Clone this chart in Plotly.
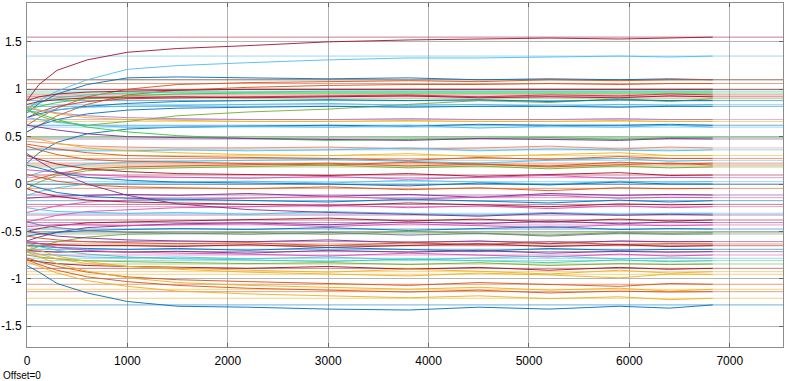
import plotly.graph_objects as go

X = [0, 120, 300, 600, 1000, 1500, 2200, 3000, 3800, 4500, 5200, 5900, 6400, 6830]
X_MAX = 7530

s01 = [0.88, 1.05, 1.20, 1.31, 1.39, 1.43, 1.46, 1.50, 1.52, 1.53, 1.54, 1.53, 1.54, 1.55]
s02 = [0.80, 0.88, 0.98, 1.10, 1.21, 1.25, 1.28, 1.31, 1.33, 1.33, 1.34, 1.35, 1.34, 1.35]
s03 = [0.75, 0.85, 0.95, 1.05, 1.12, 1.13, 1.12, 1.11, 1.12, 1.10, 1.11, 1.10, 1.11, 1.10]
s04 = [0.62, 0.70, 0.80, 0.92, 1.00, 1.05, 1.07, 1.08, 1.09, 1.08, 1.10, 1.09, 1.10, 1.10]
s05 = [0.55, 0.62, 0.72, 0.84, 0.94, 0.99, 1.02, 1.04, 1.05, 1.05, 1.06, 1.05, 1.06, 1.06]
s06 = [0.88, 0.92, 0.95, 0.97, 0.98, 0.99, 1.00, 1.00, 1.00, 1.00, 1.00, 1.00, 1.00, 1.00]
s07 = [0.80, 0.86, 0.91, 0.94, 0.96, 0.97, 0.97, 0.98, 0.98, 0.98, 0.98, 0.98, 0.98, 0.98]
s08 = [0.78, 0.82, 0.86, 0.90, 0.93, 0.95, 0.96, 0.96, 0.96, 0.96, 0.96, 0.96, 0.96, 0.96]
s09 = [0.70, 0.76, 0.82, 0.87, 0.90, 0.91, 0.92, 0.93, 0.94, 0.92, 0.94, 0.93, 0.95, 0.94]
s10 = [0.84, 0.87, 0.89, 0.91, 0.91, 0.92, 0.91, 0.92, 0.93, 0.91, 0.92, 0.91, 0.93, 0.92]
s11 = [0.78, 0.72, 0.66, 0.62, 0.66, 0.72, 0.76, 0.79, 0.84, 0.88, 0.86, 0.90, 0.87, 0.90]
s12 = [0.70, 0.74, 0.78, 0.82, 0.85, 0.87, 0.88, 0.89, 0.88, 0.89, 0.87, 0.89, 0.88, 0.88]
s13 = [0.76, 0.77, 0.79, 0.81, 0.82, 0.83, 0.84, 0.85, 0.83, 0.84, 0.82, 0.84, 0.83, 0.84]
s14 = [0.55, 0.62, 0.68, 0.74, 0.78, 0.80, 0.81, 0.82, 0.81, 0.82, 0.82, 0.81, 0.82, 0.82]
s15 = [0.80, 0.78, 0.75, 0.72, 0.70, 0.69, 0.68, 0.68, 0.69, 0.68, 0.68, 0.69, 0.68, 0.68]
s16 = [0.82, 0.78, 0.74, 0.70, 0.68, 0.67, 0.66, 0.66, 0.67, 0.66, 0.66, 0.67, 0.66, 0.66]
s17 = [0.22, 0.33, 0.44, 0.53, 0.58, 0.60, 0.61, 0.62, 0.61, 0.63, 0.62, 0.62, 0.63, 0.62]
s18 = [0.70, 0.68, 0.65, 0.62, 0.60, 0.60, 0.61, 0.60, 0.62, 0.59, 0.61, 0.60, 0.62, 0.60]
s19 = [0.78, 0.74, 0.68, 0.60, 0.55, 0.51, 0.48, 0.46, 0.47, 0.48, 0.49, 0.47, 0.49, 0.49]
s20 = [0.62, 0.60, 0.57, 0.53, 0.50, 0.49, 0.48, 0.47, 0.46, 0.48, 0.47, 0.46, 0.48, 0.475]
s21 = [0.45, 0.44, 0.42, 0.40, 0.39, 0.38, 0.38, 0.39, 0.37, 0.38, 0.40, 0.37, 0.39, 0.38]
s22 = [0.36, 0.37, 0.36, 0.35, 0.35, 0.36, 0.35, 0.36, 0.38, 0.35, 0.37, 0.36, 0.35, 0.36]
s23 = [0.50, 0.47, 0.43, 0.38, 0.35, 0.33, 0.31, 0.30, 0.32, 0.29, 0.31, 0.33, 0.30, 0.30]
s24 = [0.42, 0.40, 0.37, 0.33, 0.30, 0.29, 0.28, 0.27, 0.25, 0.28, 0.26, 0.29, 0.27, 0.27]
s25 = [0.08, 0.12, 0.17, 0.21, 0.23, 0.24, 0.25, 0.26, 0.24, 0.22, 0.25, 0.27, 0.24, 0.25]
s26 = [0.40, 0.36, 0.31, 0.26, 0.24, 0.23, 0.22, 0.20, 0.23, 0.21, 0.19, 0.23, 0.21, 0.22]
s27 = [0.02, 0.06, 0.11, 0.16, 0.18, 0.19, 0.21, 0.22, 0.19, 0.21, 0.18, 0.20, 0.22, 0.20]
s28 = [-0.05, 0.02, 0.09, 0.14, 0.16, 0.17, 0.18, 0.20, 0.17, 0.19, 0.16, 0.19, 0.17, 0.18]
s29 = [0.30, 0.26, 0.21, 0.16, 0.13, 0.11, 0.10, 0.09, 0.11, 0.08, 0.10, 0.12, 0.09, 0.095]
s30 = [0.15, 0.14, 0.12, 0.10, 0.08, 0.07, 0.06, 0.08, 0.05, 0.07, 0.09, 0.06, 0.07, 0.067]
s31 = [-0.12, -0.08, -0.04, 0.00, 0.01, 0.02, 0.03, 0.01, 0.04, 0.02, 0.00, 0.03, 0.02, 0.025]
s32 = [0.20, 0.17, 0.12, 0.07, 0.04, 0.02, 0.01, 0.00, -0.02, 0.01, -0.01, 0.02, 0.00, 0.00]
s33 = [0.10, 0.07, 0.03, -0.01, -0.03, -0.04, -0.05, -0.03, -0.06, -0.04, -0.07, -0.04, -0.05, -0.046]
s34 = [-0.15, -0.14, -0.13, -0.12, -0.11, -0.12, -0.10, -0.13, -0.11, -0.14, -0.10, -0.12, -0.11, -0.116]
s35 = [-0.30, -0.27, -0.23, -0.19, -0.17, -0.16, -0.15, -0.13, -0.16, -0.14, -0.12, -0.15, -0.14, -0.144]
s36 = [0.00, -0.04, -0.09, -0.13, -0.15, -0.16, -0.17, -0.19, -0.16, -0.18, -0.20, -0.17, -0.19, -0.176]
s37 = [-0.05, -0.09, -0.13, -0.17, -0.19, -0.20, -0.21, -0.23, -0.20, -0.22, -0.24, -0.21, -0.22, -0.215]
s38 = [-0.40, -0.37, -0.33, -0.29, -0.27, -0.25, -0.24, -0.22, -0.25, -0.23, -0.26, -0.23, -0.25, -0.239]
s39 = [-0.25, -0.27, -0.29, -0.30, -0.31, -0.30, -0.32, -0.29, -0.31, -0.33, -0.30, -0.32, -0.31, -0.309]
s40 = [0.32, 0.24, 0.13, 0.00, -0.12, -0.21, -0.27, -0.30, -0.32, -0.34, -0.31, -0.33, -0.32, -0.327]
s41 = [-0.50, -0.47, -0.44, -0.41, -0.40, -0.39, -0.38, -0.36, -0.39, -0.37, -0.40, -0.37, -0.39, -0.38]
s42 = [-0.60, -0.56, -0.51, -0.46, -0.44, -0.42, -0.41, -0.43, -0.40, -0.42, -0.39, -0.42, -0.40, -0.408]
s43 = [-0.45, -0.44, -0.43, -0.43, -0.44, -0.43, -0.42, -0.45, -0.42, -0.44, -0.46, -0.43, -0.44, -0.432]
s44 = [-0.55, -0.53, -0.51, -0.49, -0.48, -0.47, -0.48, -0.46, -0.49, -0.47, -0.45, -0.48, -0.47, -0.475]
s45 = [-0.70, -0.66, -0.61, -0.56, -0.53, -0.52, -0.51, -0.53, -0.50, -0.52, -0.54, -0.51, -0.52, -0.51]
s46 = [-0.40, -0.43, -0.46, -0.49, -0.51, -0.52, -0.53, -0.51, -0.54, -0.52, -0.55, -0.52, -0.53, -0.527]
s47 = [-0.50, -0.52, -0.55, -0.57, -0.59, -0.60, -0.61, -0.59, -0.62, -0.60, -0.63, -0.60, -0.61, -0.608]
s48 = [-0.55, -0.57, -0.59, -0.61, -0.62, -0.63, -0.62, -0.65, -0.62, -0.64, -0.61, -0.64, -0.63, -0.633]
s49 = [-0.62, -0.63, -0.64, -0.65, -0.65, -0.66, -0.64, -0.67, -0.65, -0.63, -0.66, -0.64, -0.66, -0.651]
s50 = [-0.65, -0.66, -0.67, -0.68, -0.69, -0.68, -0.70, -0.67, -0.69, -0.71, -0.68, -0.70, -0.69, -0.689]
s51 = [-0.70, -0.71, -0.72, -0.71, -0.72, -0.71, -0.73, -0.70, -0.72, -0.70, -0.73, -0.71, -0.72, -0.714]
s52 = [-0.60, -0.63, -0.67, -0.70, -0.72, -0.73, -0.74, -0.76, -0.73, -0.75, -0.77, -0.74, -0.76, -0.749]
s53 = [-0.72, -0.74, -0.75, -0.77, -0.78, -0.77, -0.79, -0.77, -0.80, -0.78, -0.76, -0.79, -0.78, -0.784]
s54 = [-0.62, -0.66, -0.70, -0.74, -0.77, -0.79, -0.80, -0.82, -0.79, -0.81, -0.83, -0.80, -0.82, -0.809]
s55 = [-0.75, -0.77, -0.79, -0.81, -0.82, -0.83, -0.84, -0.83, -0.85, -0.83, -0.86, -0.84, -0.85, -0.844]
s56 = [-0.80, -0.82, -0.84, -0.86, -0.87, -0.88, -0.89, -0.87, -0.90, -0.88, -0.91, -0.88, -0.90, -0.89]
s57 = [-0.70, -0.74, -0.79, -0.84, -0.87, -0.89, -0.91, -0.93, -0.90, -0.92, -0.95, -0.91, -0.94, -0.925]
s58 = [-0.65, -0.70, -0.76, -0.82, -0.87, -0.90, -0.93, -0.95, -0.97, -0.94, -0.96, -0.99, -0.95, -0.953]
s59 = [-0.78, -0.82, -0.87, -0.93, -0.98, -1.01, -1.03, -1.05, -1.07, -1.04, -1.06, -1.08, -1.05, -1.058]
s60 = [-0.72, -0.77, -0.84, -0.92, -0.99, -1.04, -1.07, -1.09, -1.11, -1.09, -1.12, -1.10, -1.13, -1.111]
s61 = [-0.80, -0.85, -0.91, -0.98, -1.03, -1.07, -1.10, -1.12, -1.14, -1.12, -1.15, -1.13, -1.14, -1.136]
s62 = [-0.82, -0.87, -0.94, -1.02, -1.08, -1.13, -1.16, -1.18, -1.20, -1.18, -1.21, -1.19, -1.22, -1.206]
s63 = [-0.86, -0.93, -1.05, -1.15, -1.24, -1.29, -1.30, -1.32, -1.33, -1.30, -1.32, -1.29, -1.31, -1.276]

series = [s01, s02, s03, s04, s05, s06, s07, s08, s09, s10, s11, s12, s13, s14, s15, s16,
          s17, s18, s19, s20, s21, s22, s23, s24, s25, s26, s27, s28, s29, s30, s31, s32,
          s33, s34, s35, s36, s37, s38, s39, s40, s41, s42, s43, s44, s45, s46, s47, s48,
          s49, s50, s51, s52, s53, s54, s55, s56, s57, s58, s59, s60, s61, s62, s63]

B, O, Y, P, G, LB, R = '#0072BD', '#D95319', '#EDB120', '#7E2F8E', '#77AC30', '#4DBEEE', '#A2142F'
PK, TL, BG, SL, SA = '#D94FB0', '#3CC8B4', '#2FCC3A', '#6A7BA0', '#F08A70'
colors = [R, LB, B, O, O, R, TL, BG, '#D03040', R, G, B, LB, B, '#B07CC8', Y,
          B, LB, BG, P, SA, LB, Y, O, LB, O, O, G, R, PK, LB, B,
          O, P, PK, B, R, PK, LB, P, R, P, PK, B, G, SL, P, O,
          R, B, P, PK, LB, TL, G, R, Y, Y, O, Y, O, Y, B]

x_ticks = [0, 1000, 2000, 3000, 4000, 5000, 6000, 7000]
y_ticks = [-1.5, -1, -0.5, 0, 0.5, 1, 1.5]
y_tick_text = ['-1.5', '-1', '-0.5', '0', '0.5', '1', '1.5']

fig = go.Figure()
# steady-state levels drawn across the full width
for s, c in zip(series, colors):
    fig.add_trace(go.Scatter(x=[0, X_MAX], y=[s[-1], s[-1]], mode='lines',
                             line=dict(color=c, width=1), opacity=0.55, hoverinfo='skip'))
# time traces
for s, c in zip(series, colors):
    fig.add_trace(go.Scatter(x=X, y=s, mode='lines', line=dict(color=c, width=1), opacity=0.9))

axis_common = dict(showgrid=True, gridcolor='#b4b4b4', gridwidth=1, zeroline=False,
                   showline=True, linecolor='#8c8c8c', linewidth=1, mirror='ticks',
                   ticks='inside', ticklen=4, tickcolor='#666666', automargin=False)
fig.update_xaxes(range=[0, X_MAX], tickvals=x_ticks, ticklabelstandoff=3, **axis_common)
fig.update_yaxes(range=[-1.72, 1.91], tickvals=y_ticks, ticktext=y_tick_text,
                 ticklabelstandoff=2, **axis_common)

fig.add_annotation(text='Offset=0', xref='paper', yref='paper', x=-0.035, y=-0.083,
                   xanchor='left', yanchor='middle', showarrow=False,
                   font=dict(size=10, color='black'))

fig.update_layout(width=785, height=381, margin=dict(l=27, r=2, t=3, b=34, autoexpand=False),
                  plot_bgcolor='white', paper_bgcolor='white', showlegend=False,
                  font=dict(family='Liberation Sans, Arial, sans-serif', size=12, color='black'))

fig.write_html('out.html', config={'displayModeBar': False},
               post_script="document.body.style.margin='0px';")
